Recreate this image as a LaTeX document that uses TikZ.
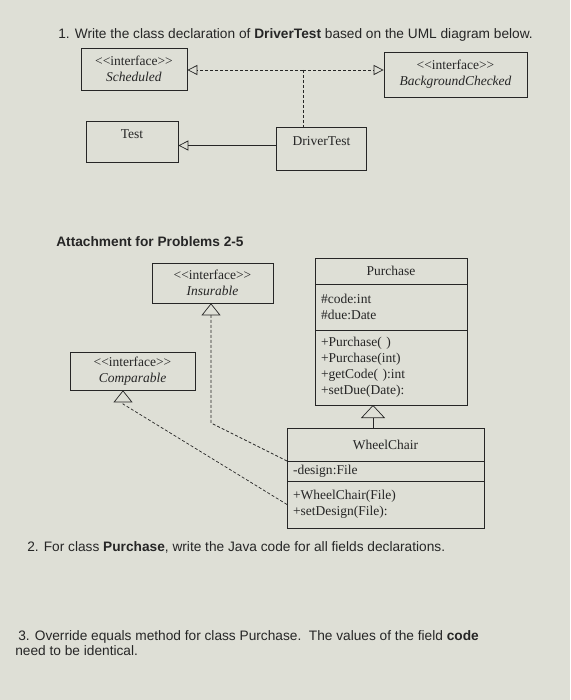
\documentclass[tikz,border=0pt]{standalone}
\usepackage{fontspec}
\setmainfont{Liberation Serif}
\setsansfont{Liberation Sans}
\usetikzlibrary{arrows.meta,positioning}
\definecolor{paper}{RGB}{222,223,214}
\definecolor{ink}{RGB}{38,38,38}
\newcommand{\umlfont}{\fontsize{13.5}{16}\selectfont}
\newcommand{\qfont}{\sffamily\fontsize{13.7}{16}\selectfont}
\newcommand{\stereo}{<{}<interface>{}>}
\begin{document}
\begin{tikzpicture}[x=1pt, y=-1pt, line width=0.7pt, draw=ink, text=ink,
iface/.style={draw, inner sep=0pt, align=center, font=\umlfont},
plain/.style={draw, inner xsep=0pt, inner ysep=0pt, font=\umlfont},
umlpart/.style={draw, inner xsep=6pt, inner ysep=0pt, outer sep=0pt, text width=#1, align=left, font=\umlfont},
question/.style={inner sep=0pt, anchor=base west, font=\qfont},
realize/.style={dash pattern=on 3pt off 2pt, -{Triangle[open, length=10pt, width=10pt]}},
realizebig/.style={dash pattern=on 3pt off 2pt, -{Triangle[open, length=12pt, width=19pt]}},
inherit/.style={-{Triangle[open, length=10pt, width=10pt]}},
inheritbig/.style={-{Triangle[open, length=13pt, width=24pt]}},
]
\fill[paper] (0,0) rectangle (570,700);
\useasboundingbox (0,0) rectangle (570,700);

% problem 1
\node (q1) [question] at (58,39) {1. Write the class declaration of \textbf{DriverTest} based on the UML diagram below.};
\node (sched) [iface, minimum width=106pt, minimum height=42pt] at (134,69) {\stereo\\\textit{Scheduled}};
\node (bgcheck) [iface, minimum width=143pt, minimum height=45pt] at (455.5,74.5) {\stereo\\\textit{BackgroundChecked}};
\node (test) [plain, minimum width=92pt, text height=18pt, text depth=23pt] at (132,141.5) {Test};
\node (drivertest) [plain, minimum width=90pt, text height=19pt, text depth=24pt] at (321.5,148.5) {DriverTest};
\coordinate (jn) at (303,70);
\draw[realize] (jn) -- (jn -| sched.east);
\draw[realize] (jn) -- (jn -| bgcheck.west);
\draw[dash pattern=on 3pt off 2pt] (jn) -- (jn |- drivertest.north);
\draw[inherit] ([yshift=3pt]drivertest.west) -- ([yshift=3pt]drivertest.west -| test.east);

% attachment
\node (attach) [question] at (56,247) {\textbf{Attachment for Problems 2-5}};
\node (insurable) [iface, minimum width=121pt, minimum height=40pt] at (212.5,283) {\stereo\\\textit{Insurable}};
\node (comparable) [iface, minimum width=125pt, minimum height=38pt] at (132.5,371) {\stereo\\\textit{Comparable}};

\node (purchase) [umlpart=140pt, align=center, minimum height=26pt] at (391,271) {Purchase};
\node (purchaseattr) [umlpart=140pt, minimum height=46pt, below=0pt of purchase] {\#code:int\\\#due:Date};
\node (purchaseops) [umlpart=140pt, minimum height=75pt, below=0pt of purchaseattr] {+Purchase( )\\+Purchase(int)\\+getCode( ):int\\+setDue(Date):};

\node (wcname) [umlpart=185pt, align=center, minimum height=33pt] at (385.5,444.5) {WheelChair};
\node (wcattr) [umlpart=185pt, minimum height=20pt, below=0pt of wcname] {-design:File};
\node (wcops) [umlpart=185pt, minimum height=47pt, below=0pt of wcattr] {+WheelChair(File)\\+setDesign(File):};

\coordinate (insbend) at (211,423);
\coordinate (cmpfoot) at (123,404);
\draw[realizebig] (wcattr.north west) -- (insbend) -- (insbend |- insurable.south);
\draw[realizebig] (wcops.west) -- (cmpfoot) -- (cmpfoot |- comparable.south);
\draw[inheritbig] (wcname.north -| 373,0) -- (purchaseops.south -| 373,0);

% problems 2 and 3
\node (q2) [question] at (27,551) {2. For class \textbf{Purchase}, write the Java code for all fields declarations.};
\node (q3) [question] at (18,640) {3. Override equals method for class Purchase.\ \ The values of the field \textbf{code}};
\node (q3b) [question] at (15,655) {need to be identical.};
\end{tikzpicture}
\end{document}
